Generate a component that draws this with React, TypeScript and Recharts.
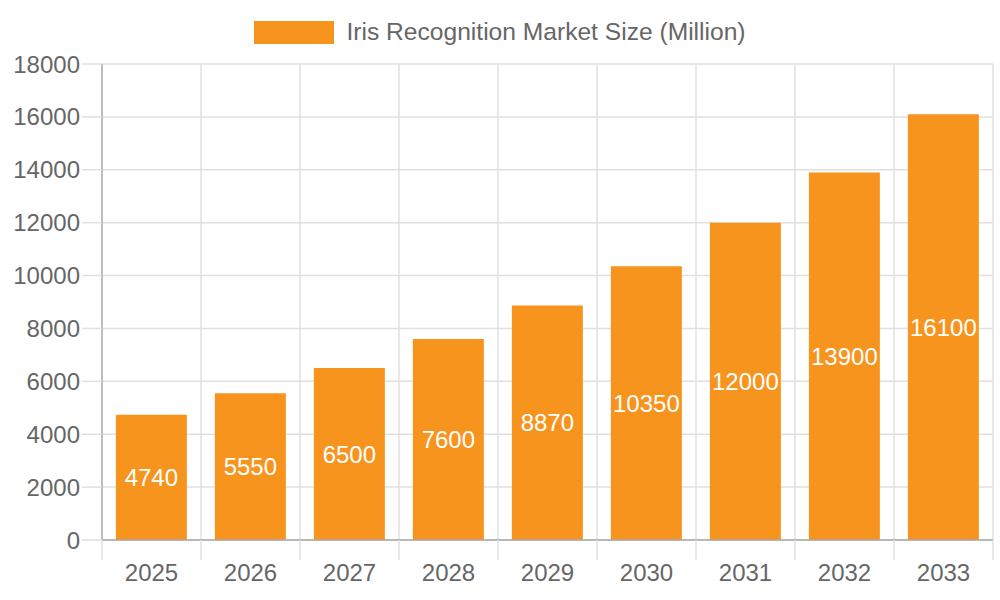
import React from 'react';
import { BarChart, Bar, XAxis, YAxis, CartesianGrid, LabelList } from 'recharts';

const years = ['2025', '2026', '2027', '2028', '2029', '2030', '2031', '2032', '2033'];
const marketSize = [4740, 5550, 6500, 7600, 8870, 10350, 12000, 13900, 16100];
const yTicks = [0, 2000, 4000, 6000, 8000, 10000, 12000, 14000, 16000, 18000];
const seriesName = 'Iris Recognition Market Size (Million)';

const W = 1000;
const H = 600;
const M = { top: 64, right: 7, bottom: 0, left: 0 };
const Y_W = 102;
const X_H = 60;
const FONT = '"Liberation Sans", Arial, sans-serif';
const FS = 24;
const BAR = '#F7941E';
const GRID = '#e0e0e0';
const AXIS = '#a8a8a8';
const TEXT = '#666666';

const plotW = W - M.left - M.right - Y_W;
const step = plotW / years.length;

const data = years.map((year, i) => ({ year, value: marketSize[i] }));

// x ticks: label at the centre, tick line at the category boundary (chart.js style)
const YearTick = (props: any) => {
    const { x, y, payload, index } = props;
    const left = x - step / 2;
    const right = x + step / 2;
    return (
        <g>
            <line x1={left} y1={y} x2={left} y2={y + 20} stroke={GRID} strokeWidth={1.5} />
            {index === years.length - 1 && (
                <line x1={right} y1={y} x2={right} y2={y + 20} stroke={GRID} strokeWidth={1.5} />
            )}
            <text x={x} y={y + 33} dy="0.35em" textAnchor="middle" fill={TEXT} fontSize={FS} fontFamily={FONT}>
                {payload.value}
            </text>
        </g>
    );
};

export default function App() {
    return (
        <div style={{ position: 'absolute', left: 0, top: 0, width: W, height: H, background: '#fff', fontFamily: FONT }}>
            <div
                style={{
                    position: 'absolute',
                    top: 20,
                    left: 0,
                    width: W,
                    display: 'flex',
                    justifyContent: 'center',
                    alignItems: 'center',
                    height: 24,
                }}
            >
                <div style={{ width: 80, height: 23, background: BAR, marginRight: 12 }} />
                <span style={{ fontSize: 24.6, color: TEXT }}>{seriesName}</span>
            </div>
            <BarChart width={W} height={H} data={data} margin={M} barCategoryGap="14%">
                <CartesianGrid
                    stroke={GRID}
                    strokeWidth={1.5}
                    verticalCoordinatesGenerator={({ offset }: any) =>
                        years.map((_, i) => offset.left + (offset.width / years.length) * (i + 1))
                    }
                />
                <XAxis
                    dataKey="year"
                    height={X_H}
                    tickSize={0}
                    tickMargin={0}
                    tickLine={false}
                    axisLine={{ stroke: AXIS, strokeWidth: 1.5 }}
                    tick={<YearTick />}
                    interval={0}
                />
                <YAxis
                    width={Y_W}
                    domain={[0, 18000]}
                    ticks={yTicks}
                    interval={0}
                    tickSize={20}
                    tickMargin={2}
                    tickLine={{ stroke: GRID, strokeWidth: 1.5 }}
                    axisLine={{ stroke: AXIS, strokeWidth: 1.5 }}
                    tick={{ fill: TEXT, fontSize: FS, fontFamily: FONT }}
                />
                <Bar dataKey="value" fill={BAR} isAnimationActive={false}>
                    <LabelList
                        dataKey="value"
                        position="center"
                        fill="#ffffff"
                        fontSize={FS}
                        fontFamily={FONT}
                    />
                </Bar>
            </BarChart>
        </div>
    );
}
